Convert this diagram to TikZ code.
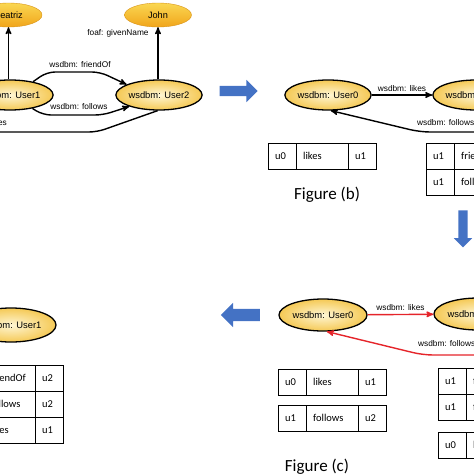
\documentclass[tikz,border=0pt]{standalone}
\usepackage{fontspec}
\setmainfont{Liberation Sans}
\newfontfamily\tabfont{Carlito}
\usetikzlibrary{arrows,matrix,positioning,shapes.geometric,shapes.arrows}
\definecolor{userin}{HTML}{FEF6D4}
\definecolor{userout}{HTML}{F5C955}
\definecolor{littop}{HTML}{FAD752}
\definecolor{litbot}{HTML}{F1A51B}
\definecolor{hilite}{HTML}{E5242A}
\definecolor{arrowblue}{HTML}{4472C4}
\tikzset{>=stealth',
  user/.style={ellipse, draw=black, line width=1.3pt, inner color=userin,
    outer color=userout, minimum width=85pt, minimum height=30pt,
    inner sep=0pt, font=\fontsize{9.4}{10}\selectfont},
  literal/.style={ellipse, draw=litbot!90!black, line width=0.4pt,
    top color=littop, bottom color=litbot, minimum width=67pt,
    minimum height=24pt, inner sep=0pt, font=\fontsize{9.2}{10}\selectfont},
  edge/.style={->, line width=1.4pt},
  redge/.style={edge, draw=hilite},
  elabel/.style={font=\fontsize{8.3}{9}\selectfont, inner sep=0pt},
  cell/.style={draw, line width=0.9pt, align=left, text width=#1,
    inner xsep=6.5pt, text height=7.5pt, text depth=2pt, minimum height=26pt},
  triple/.style={matrix of nodes, inner sep=0pt, anchor=north west,
    column sep=-0.9pt, row sep=-0.9pt,
    nodes={font=\tabfont\fontsize{10.5}{12}\selectfont},
    column 1/.style={nodes={cell=15pt}},
    column 2/.style={nodes={cell=39pt}},
    column 3/.style={nodes={cell=15pt}}},
  caption/.style={font=\tabfont\fontsize{17}{20}\selectfont, anchor=base},
  blockarrow/.style={single arrow, fill=arrowblue, inner xsep=0pt,
    inner ysep=5pt, minimum width=22pt, single arrow head extend=6pt,
    minimum height=38pt}}

\begin{document}
\begin{tikzpicture}[x=1pt,y=-1pt]
  \useasboundingbox (0,0) rectangle (474,474);
  % figure (a)
  \node[literal] (bea) at (8.5,15) {Beatriz};
  \node[literal] (john) at (158,15) {John};
  \node[user] (u1a) at (10,95) {wsdbm: User1};
  \node[user] (u2a) at (159,95) {wsdbm: User2};
  \coordinate (lefta) at (-40,132);
  \draw[edge] (u1a.north -| bea) -- (bea);
  \draw[edge] (u2a.north -| john) -- (john);
  \node[elabel] (given) at (118,33) {foaf: givenName};
  \draw[edge, rounded corners=8pt] (u1a.30) -- (47,72) -- (100,72) -- (u2a.162);
  \node[elabel] (fra) at (80,65) {wsdbm: friendOf};
  \draw[edge, rounded corners=8pt] (u1a.-31) -- (43,115) -- (103,115) -- (u2a.-159);
  \node[elabel] (foa) at (79,107) {wsdbm: follows};
  \draw[edge, rounded corners=8pt] (u2a.-95) -- (97,132) -- (lefta);
  \node[elabel, anchor=east] (lka) at (7,123) {wsdbm: likes};
  \node[blockarrow] (tob) at (236,91) {};
  % figure (b)
  \node[user] (u0b) at (328,95) {wsdbm: User0};
  \node[user] (u1b) at (476,95) {wsdbm: User1};
  \coordinate (rightb) at (510,132);
  \draw[edge] (u0b) -- (u1b) node[elabel, midway, above=3pt] (lkb) {wsdbm: likes};
  \draw[edge, rounded corners=10pt] (rightb) -- (420,132) -- (u0b.-80);
  \node[elabel, anchor=west] (fob) at (417,123) {wsdbm: follows};
  \matrix (tb1) [triple] at (268,143) { u0 & likes & u1 \\ };
  \matrix (tb2) [triple] at (426,143) { u1 & friendOf & u2 \\
                                        u1 & follows & u2 \\ };
  \node[caption] (capb) at (327,199) {Figure (b)};
  \node[blockarrow, rotate=-90, inner ysep=4.5pt, minimum width=18pt,
    single arrow head extend=4.5pt, minimum height=37pt] (toc) at (463,226.5) {};
  % figure (c)
  \node[user, minimum width=88pt, minimum height=32pt] (u0c) at (323,315) {wsdbm: User0};
  \node[user, minimum width=88pt, minimum height=32pt] (u1c) at (478,314) {wsdbm: User1};
  \coordinate (rightc) at (510,355);
  \draw[redge] (u0c) -- (u1c) node[elabel, midway, above=3pt] (lkc) {wsdbm: likes};
  \draw[redge, rounded corners=10pt] (rightc) -- (423,355) -- (u0c.-77);
  \node[elabel, anchor=west] (foc) at (418,344) {wsdbm: follows};
  \matrix (tc1) [triple] at (278,369) { u0 & likes & u1 \\ };
  \matrix (tc2) [triple] at (278,405) { u1 & follows & u2 \\ };
  \matrix (tc3) [triple] at (438,368) { u1 & friendOf & u2 \\
                                        u1 & follows & u2 \\ };
  \matrix (tc4) [triple] at (438,432) { u0 & likes & u1 \\ };
  \node[caption] (capc) at (317,471) {Figure (c)};
  \node[blockarrow, rotate=180, inner ysep=6pt, minimum width=24pt,
    minimum height=39pt] (tod) at (243.5,315) {};
  % figure (d)
  \node[user, minimum width=90pt, minimum height=34pt] (u1d) at (11,325) {wsdbm: User1};
  \matrix (td) [triple] at (-45,365) { u1 & friendOf & u2 \\
                                       u1 & follows & u2 \\
                                       u0 & likes & u1 \\ };
\end{tikzpicture}
\end{document}
